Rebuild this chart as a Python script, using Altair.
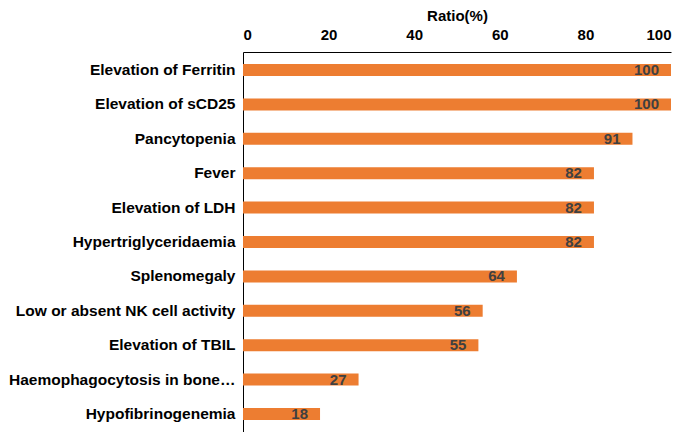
import altair as alt
import pandas as pd

categories = [
    "Elevation of Ferritin",
    "Elevation of sCD25",
    "Pancytopenia",
    "Fever",
    "Elevation of LDH",
    "Hypertriglyceridaemia",
    "Splenomegaly",
    "Low or absent NK cell activity",
    "Elevation of TBIL",
    "Haemophagocytosis in bone…",
    "Hypofibrinogenemia",
]
values = [100, 100, 91, 82, 82, 82, 64, 56, 55, 27, 18]

df = pd.DataFrame({"cat": categories, "val": values})

base = alt.Chart(df).encode(
    y=alt.Y(
        "cat:N",
        sort=categories,
        title=None,
        axis=alt.Axis(
            labelFont="Liberation Sans",
            labelFontSize=15.5,
            labelFontWeight="bold",
            labelColor="#000000",
            labelLimit=300,
            labelPadding=8,
            ticks=False,
            domain=True,
            domainColor="#000000",
            domainWidth=1,
        ),
        scale=alt.Scale(paddingInner=0.65, paddingOuter=0.35),
    ),
)

bars = base.mark_bar(color="#ED7D31", size=12).encode(
    x=alt.X(
        "val:Q",
        scale=alt.Scale(domain=[0, 100]),
        title="Ratio(%)",
        axis=alt.Axis(
            orient="top",
            values=[0, 20, 40, 60, 80, 100],
            grid=False,
            ticks=False,
            domainColor="#000000",
            labelFont="Liberation Sans",
            labelFontSize=15,
            labelFontWeight="bold",
            labelColor="#000000",
            labelPadding=10,
            titleFont="Liberation Sans",
            titleFontSize=15,
            titleFontWeight="bold",
            titleColor="#000000",
            titlePadding=4,
        ),
    )
)

labels = base.mark_text(
    align="right",
    baseline="middle",
    dx=-12,
    font="Liberation Sans",
    fontSize=15,
    fontWeight="bold",
    color="#404040",
).encode(x="val:Q", text="val:Q")

chart = (
    (bars + labels)
    .properties(
        width=428,
        height=380,
        background="#ffffff",
        padding={"left": 0, "right": 5, "top": 0, "bottom": 0},
    )
    .configure_view(stroke=None)
)

chart.save("out.html", embed_options={"renderer": "svg", "actions": False})
